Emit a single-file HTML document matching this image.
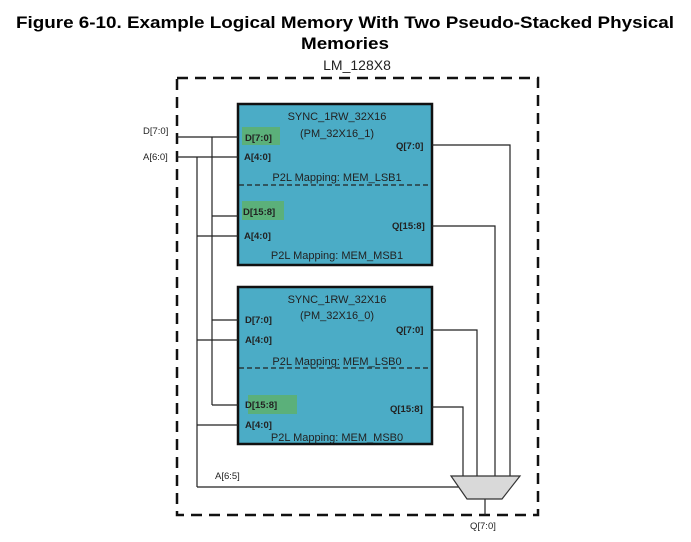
<!DOCTYPE html>
<html><head><meta charset="utf-8"><style>
html,body{margin:0;padding:0;background:#fff;width:691px;height:542px;overflow:hidden}
svg text{font-family:"Liberation Sans",Arial,sans-serif}
</style></head><body>
<svg width="691" height="542" viewBox="0 0 691 542" xmlns="http://www.w3.org/2000/svg">
<text x="345" y="28" font-size="17" font-weight="bold" text-anchor="middle" textLength="658" lengthAdjust="spacingAndGlyphs">Figure 6-10. Example Logical Memory With Two Pseudo-Stacked Physical</text>
<text x="345" y="49" font-size="17" font-weight="bold" text-anchor="middle" textLength="88" lengthAdjust="spacingAndGlyphs">Memories</text>
<text x="357" y="70" font-size="14" text-anchor="middle" fill="#222">LM_128X8</text>
<rect x="177" y="78" width="361" height="437" fill="none" stroke="#111" stroke-width="2.5" stroke-dasharray="11,7"/>
<!-- blocks -->
<rect x="238" y="104" width="194" height="161" fill="#4BACC6" stroke="#111" stroke-width="2.5"/>
<rect x="238" y="287" width="194" height="157" fill="#4BACC6" stroke="#111" stroke-width="2.5"/>
<line x1="239" y1="185" x2="431" y2="185" stroke="#222" stroke-width="1.2" stroke-dasharray="5,3"/>
<line x1="239" y1="368" x2="431" y2="368" stroke="#222" stroke-width="1.2" stroke-dasharray="5,3"/>
<rect x="242" y="127" width="38" height="18" fill="#5BB07A"/>
<rect x="242" y="201" width="42" height="19" fill="#5BB07A"/>
<rect x="248" y="395" width="49" height="19" fill="#5BB07A"/>
<g font-size="11" fill="#222" text-anchor="middle">
<text x="337" y="120">SYNC_1RW_32X16</text>
<text x="337" y="137">(PM_32X16_1)</text>
<text x="337" y="181">P2L Mapping: MEM_LSB1</text>
<text x="337" y="259">P2L Mapping: MEM_MSB1</text>
<text x="337" y="303">SYNC_1RW_32X16</text>
<text x="337" y="319">(PM_32X16_0)</text>
<text x="337" y="365">P2L Mapping: MEM_LSB0</text>
<text x="337" y="441">P2L Mapping: MEM_MSB0</text>
</g>
<g font-size="9.5" font-weight="bold" fill="#222">
<text x="245" y="141">D[7:0]</text>
<text x="244" y="160">A[4:0]</text>
<text x="243" y="215">D[15:8]</text>
<text x="244" y="239">A[4:0]</text>
<text x="396" y="149">Q[7:0]</text>
<text x="392" y="229">Q[15:8]</text>
<text x="245" y="323">D[7:0]</text>
<text x="245" y="343">A[4:0]</text>
<text x="245" y="408">D[15:8]</text>
<text x="245" y="428">A[4:0]</text>
<text x="396" y="333">Q[7:0]</text>
<text x="390" y="412">Q[15:8]</text>
</g>
<g font-size="9.5" fill="#222">
<text x="143" y="134">D[7:0]</text>
<text x="143" y="160">A[6:0]</text>
<text x="215" y="479">A[6:5]</text>
<text x="470" y="529">Q[7:0]</text>
</g>
<g stroke="#222" stroke-width="1.2" fill="none">
<polyline points="177,137 238,137"/>
<polyline points="177,157 238,157"/>
<line x1="212" y1="137" x2="212" y2="405"/>
<line x1="197" y1="157" x2="197" y2="487"/>
<line x1="212" y1="216" x2="238" y2="216"/>
<line x1="197" y1="236" x2="238" y2="236"/>
<line x1="212" y1="320" x2="238" y2="320"/>
<line x1="197" y1="340" x2="238" y2="340"/>
<line x1="212" y1="405" x2="238" y2="405"/>
<line x1="197" y1="425" x2="238" y2="425"/>
<line x1="197" y1="487" x2="462" y2="487"/>
<polyline points="432,145 510,145 510,476"/>
<polyline points="432,226 495,226 495,476"/>
<polyline points="432,330 477,330 477,476"/>
<polyline points="432,407 463,407 463,476"/>
<line x1="485" y1="499" x2="485" y2="515"/>
</g>
<polygon points="451,476 520,476 502,499 467,499" fill="#d9d9d9" stroke="#333" stroke-width="1.2"/>
</svg>
</body></html>
